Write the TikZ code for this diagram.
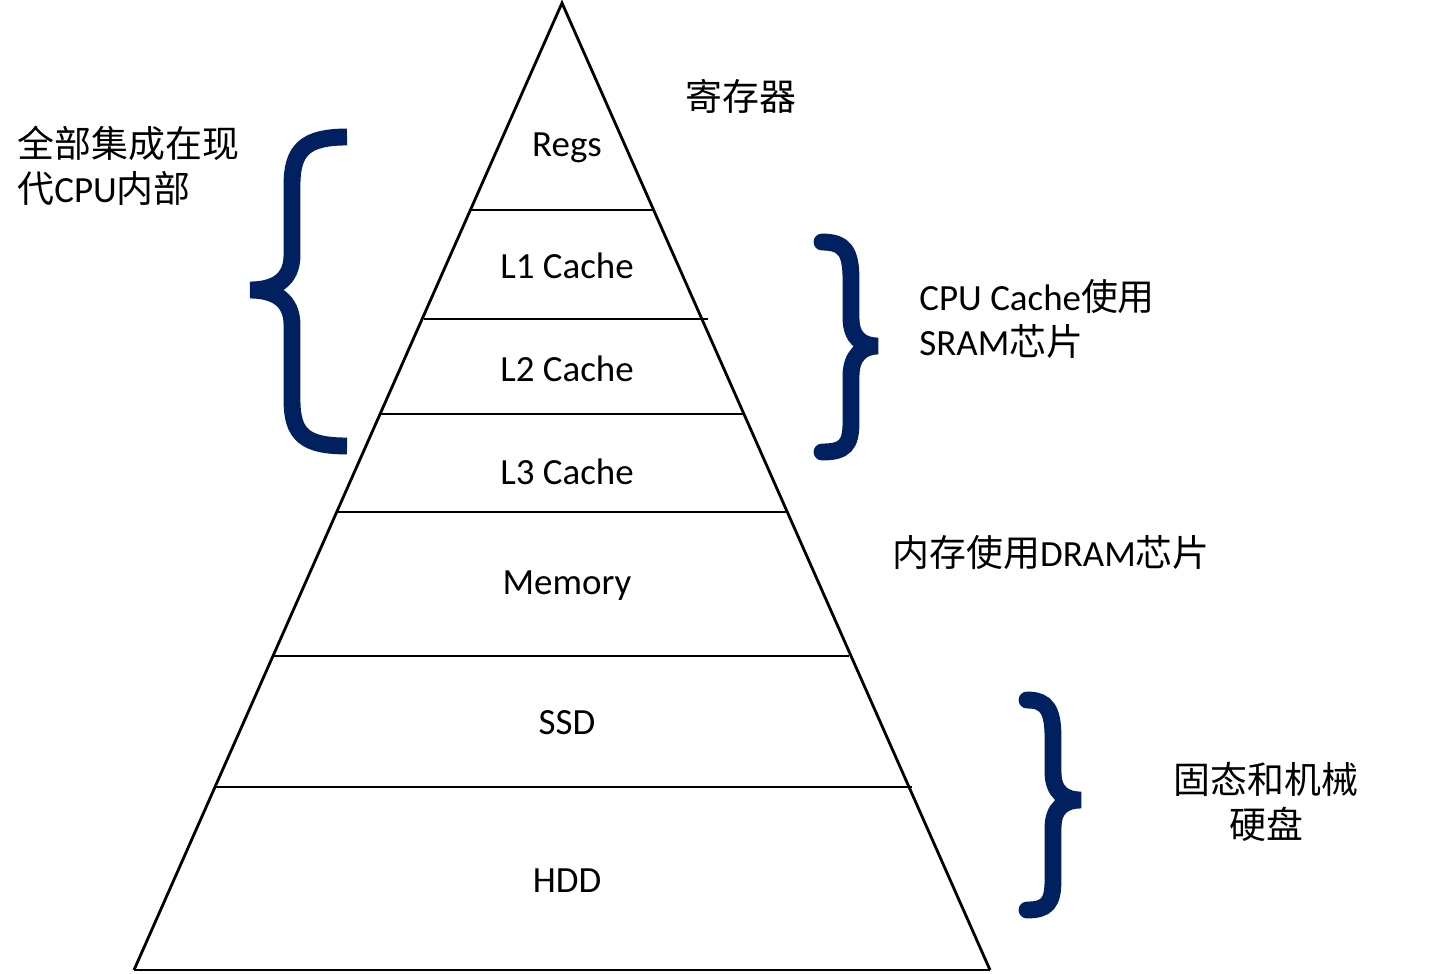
\documentclass[tikz,border=0pt]{standalone}
\usepackage{fontspec}
\setmainfont{Carlito}
\newfontfamily\cjk{Noto Sans CJK SC}
\usepackage{xcolor}
\usetikzlibrary{calc,positioning}
\definecolor{bracenavy}{HTML}{002060}
\newcommand{\zh}[1]{{\cjk #1}}

\begin{document}
\begin{tikzpicture}[x=0.01cm,y=-0.01cm,
    font=\fontsize{10.5}{12.8}\selectfont,
    level/.style={line width=0.7pt},
    curly/.style={line width=4.8pt,color=bracenavy}]
    \useasboundingbox (0,0) rectangle (1431,973);

    %pyramid
    \coordinate (apex) at (562,3);
    \coordinate (bl) at (134,970);
    \coordinate (br) at (990,970);
    \draw [thick] (bl) -- (apex) -- (br);
    \draw [level] (bl) -- (br);

        \draw [level] (471,210) -- (653,210);
        \draw [level] (424,319) -- (708,319);
        \draw [level] (381,414) -- (743,414);
        \draw [level] (337,512) -- (787,512);
        \draw [level] (274,656) -- (849,656);
        \draw [level] (215,787) -- (912,787);

    %levels
    \node [] (regs) at (567,148) {Regs};
    \node [] (l1) at (567,266) {L1 Cache};
    \node [] (l2) at (567,369) {L2 Cache};
    \node [] (l3) at (567,472) {L3 Cache};
    \node [] (mem) at (567,586) {Memory};
    \node [] (ssd) at (567,723) {SSD};
    \node [] (hdd) at (567,881) {HDD};

    %braces
    \draw [curly] (347,137) .. controls (305,137) and (292,150) .. (292,185) -- (292,255)
        .. controls (292,280) and (275,290) .. (250,290)
        .. controls (275,290) and (292,300) .. (292,325) -- (292,400)
        .. controls (292,435) and (305,446) .. (347,446);
    \draw [curly,line cap=round] (822,242) .. controls (845,242) and (851,252) .. (851,280) -- (851,318)
        .. controls (851,338) and (862,346) .. (878,346)
        .. controls (862,346) and (851,356) .. (851,376) -- (851,422)
        .. controls (851,445) and (845,452) .. (822,452);
    \draw [curly,line cap=round] (1027,700) .. controls (1047,700) and (1053,710) .. (1053,738) -- (1053,772)
        .. controls (1053,792) and (1064,800) .. (1081,800)
        .. controls (1064,800) and (1053,808) .. (1053,828) -- (1053,880)
        .. controls (1053,903) and (1047,910) .. (1027,910);

    %labels
    \node [anchor=west] (reg) at (673,96) {\zh{寄存器}};
    \node [anchor=west,align=left] (cpu) at (5,166) {\zh{全部集成在现}\\\zh{代}CPU\zh{内部}};
    \node [anchor=west,align=left] (sram) at (907,319) {CPU Cache\zh{使用}\\SRAM\zh{芯片}};
    \node [anchor=west] (dram) at (880,553) {\zh{内存使用}DRAM\zh{芯片}};
    \node [align=center] (disk) at (1266,802) {\zh{固态和机械}\\\zh{硬盘}};
\end{tikzpicture}
\end{document}
